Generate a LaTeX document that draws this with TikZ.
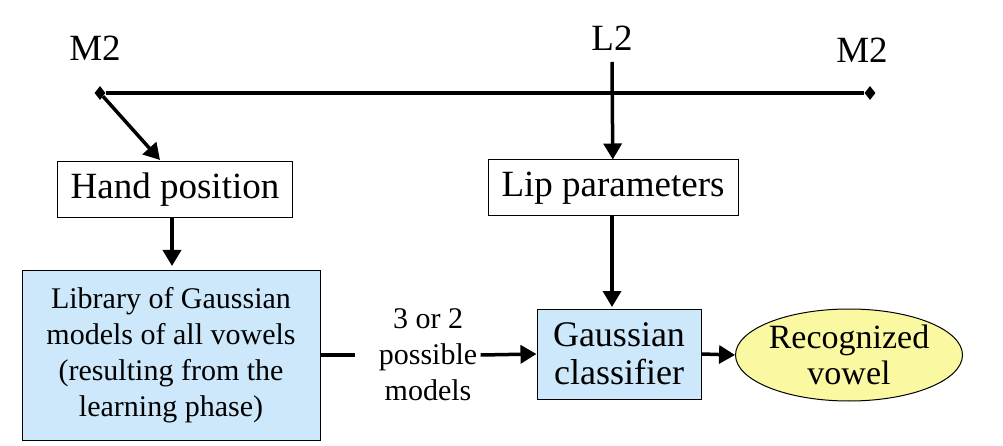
\documentclass[tikz,border=0pt]{standalone}
\usepackage{fontspec}
\setmainfont{Liberation Serif}
\usetikzlibrary{shapes.geometric,arrows.meta}
\definecolor{lb}{RGB}{204,232,250}
\definecolor{ly}{RGB}{250,248,160}
\begin{document}
\begin{tikzpicture}[x=1pt,y=-1pt,
 box/.style={draw,line width=1pt,inner sep=0pt,align=center},
 arr/.style={line width=3.5pt,-{Triangle[length=16pt,width=18pt]}},
 ln/.style={line width=3.5pt},
 big/.style={font={\fontsize{37}{40}\selectfont}},
 mid/.style={font={\fontsize{30}{36}\selectfont}},
 dm/.style={diamond,fill=black,inner sep=0pt,minimum width=11pt,minimum height=14pt}]
\useasboundingbox (0,0) rectangle (1003,446);
\node[big] (m2l) at (95,48) {M2};
\node[big] (m2r) at (862,50) {M2};
\node[big] (l2) at (612,38) {L2};
\node[dm] (dl) at (100,93) {};
\node[dm] (dr) at (870,93) {};
\draw[ln] (dl) -- (dr);
\coordinate (l2b) at (612,62);
\node[box,big,minimum width=235pt,minimum height=56pt] (hand) at (175,190) {Hand position};
\node[box,big,minimum width=250pt,minimum height=56pt] (lip) at (613,188) {Lip parameters};
\node[box,mid,fill=lb,minimum width=298pt,minimum height=170pt] (lib) at (171,355) {Library of Gaussian\\ models of all vowels\\ (resulting from the\\ learning phase)};
\node[mid,align=center] (txt) at (428,355) {3 or 2\\ possible\\ models};
\node[box,fill=lb,minimum width=164pt,minimum height=90pt,font={\fontsize{36}{38}\selectfont}] (gc) at (619,354) {Gaussian\\ classifier};
\node[ellipse,draw,line width=1pt,fill=ly,minimum width=178pt,minimum height=92pt,inner sep=0pt,align=center,font={\fontsize{34}{36}\selectfont}] (rv) at (849,355) {Recognized\\ vowel};
\coordinate (ht) at (160,160);
\coordinate (hb) at (172,218);
\coordinate (lt) at (172,266);
\coordinate (lpb) at (612,216);
\coordinate (gt) at (612,307);
\coordinate (dash) at (355,355);
\draw[arr] (dl) -- (ht);
\draw[arr] (l2b) -- (lip);
\draw[arr] (hb) -- (lt);
\draw[arr] (lpb) -- (gt);
\draw[ln] (lib.east) -- (dash);
\draw[arr] (txt.east) -- (gc.west);
\draw[arr] (gc.east) -- (rv.west);
\end{tikzpicture}
\end{document}
